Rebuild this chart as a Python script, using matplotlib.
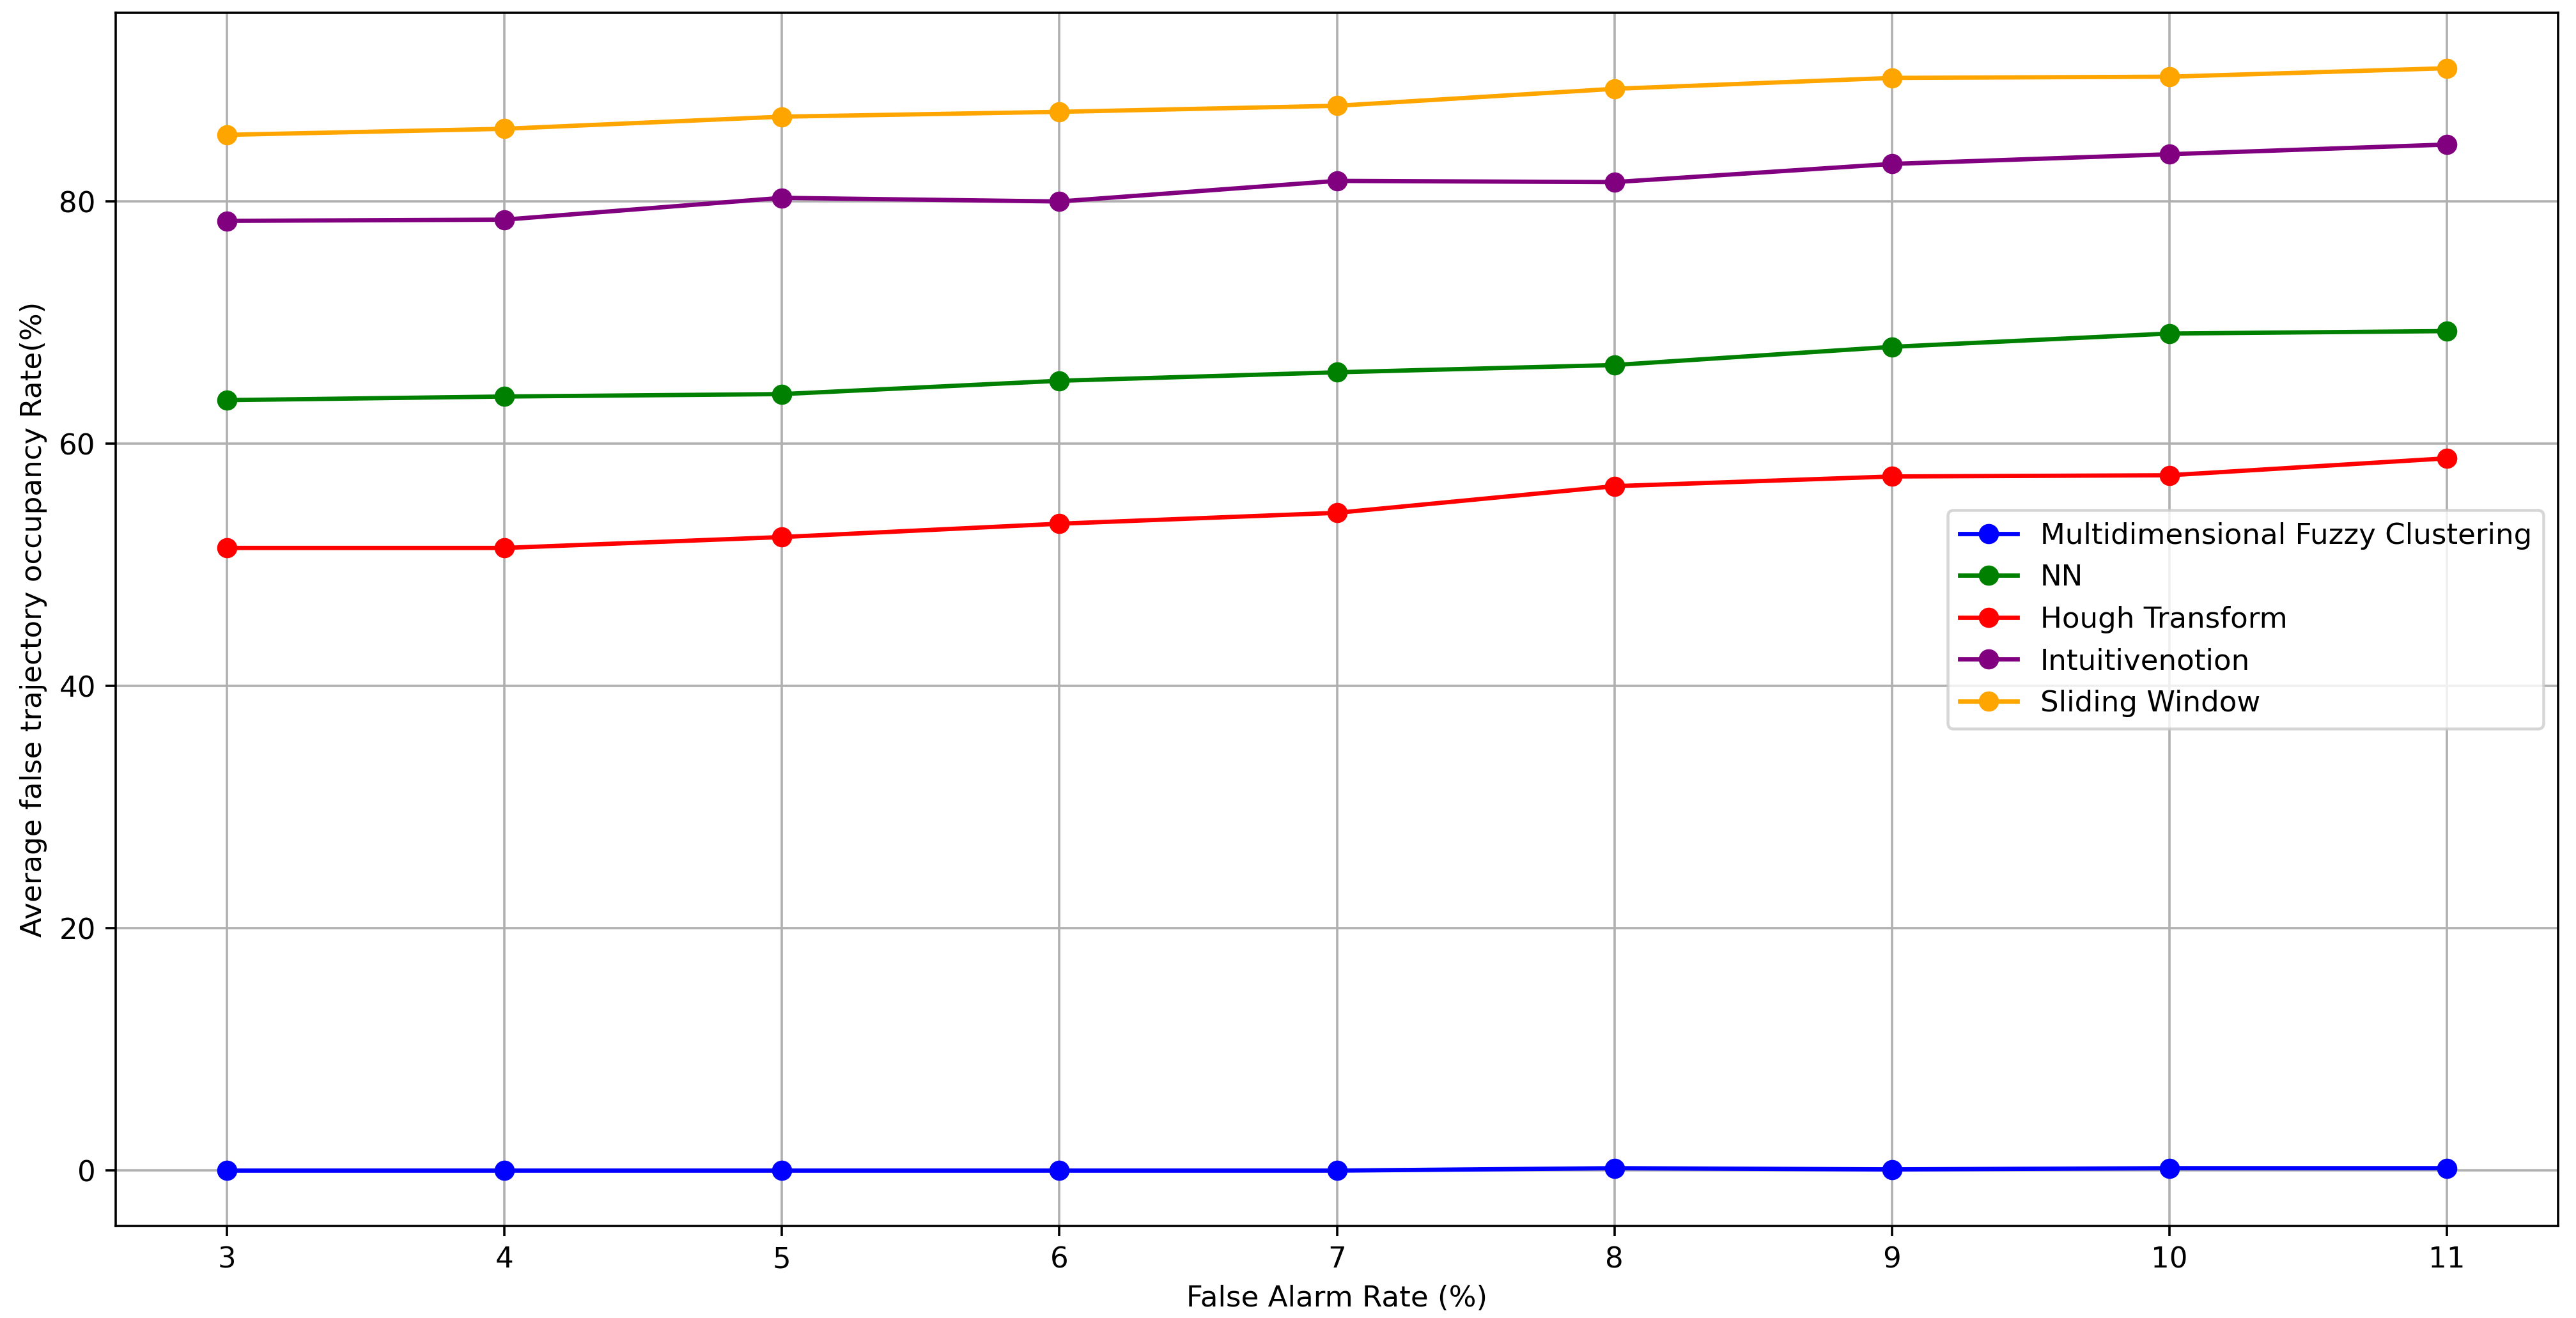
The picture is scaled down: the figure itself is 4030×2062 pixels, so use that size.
import matplotlib
matplotlib.use("Agg")
import matplotlib.pyplot as plt

x = [3, 4, 5, 6, 7, 8, 9, 10, 11]
fuzzy = [0.0, 0.0, 0.0, 0.0, 0.0, 0.2, 0.1, 0.2, 0.2]
nn = [63.6, 63.9, 64.1, 65.2, 65.9, 66.5, 68.0, 69.1, 69.3]
hough = [51.4, 51.4, 52.3, 53.4, 54.3, 56.5, 57.3, 57.4, 58.8]
intuitive = [78.4, 78.5, 80.3, 80.0, 81.7, 81.6, 83.1, 83.9, 84.7]
sliding = [85.5, 86.0, 87.0, 87.4, 87.9, 89.3, 90.2, 90.3, 91.0]

fig = plt.figure(figsize=(12.4, 6.345), dpi=325)
ax = fig.add_axes([0.045, 0.07, 0.948, 0.92])
ax.plot(x, fuzzy, marker='o', color='blue', label='Multidimensional Fuzzy Clustering')
ax.plot(x, nn, marker='o', color='green', label='NN')
ax.plot(x, hough, marker='o', color='red', label='Hough Transform')
ax.plot(x, intuitive, marker='o', color='purple', label='Intuitivenotion')
ax.plot(x, sliding, marker='o', color='orange', label='Sliding Window')
ax.set_xticks(x)
ax.set_xlabel('False Alarm Rate (%)')
ax.set_ylabel('Average false trajectory occupancy Rate(%)')
ax.grid(True)
ax.legend(loc='center right')
fig.savefig('out.png')
